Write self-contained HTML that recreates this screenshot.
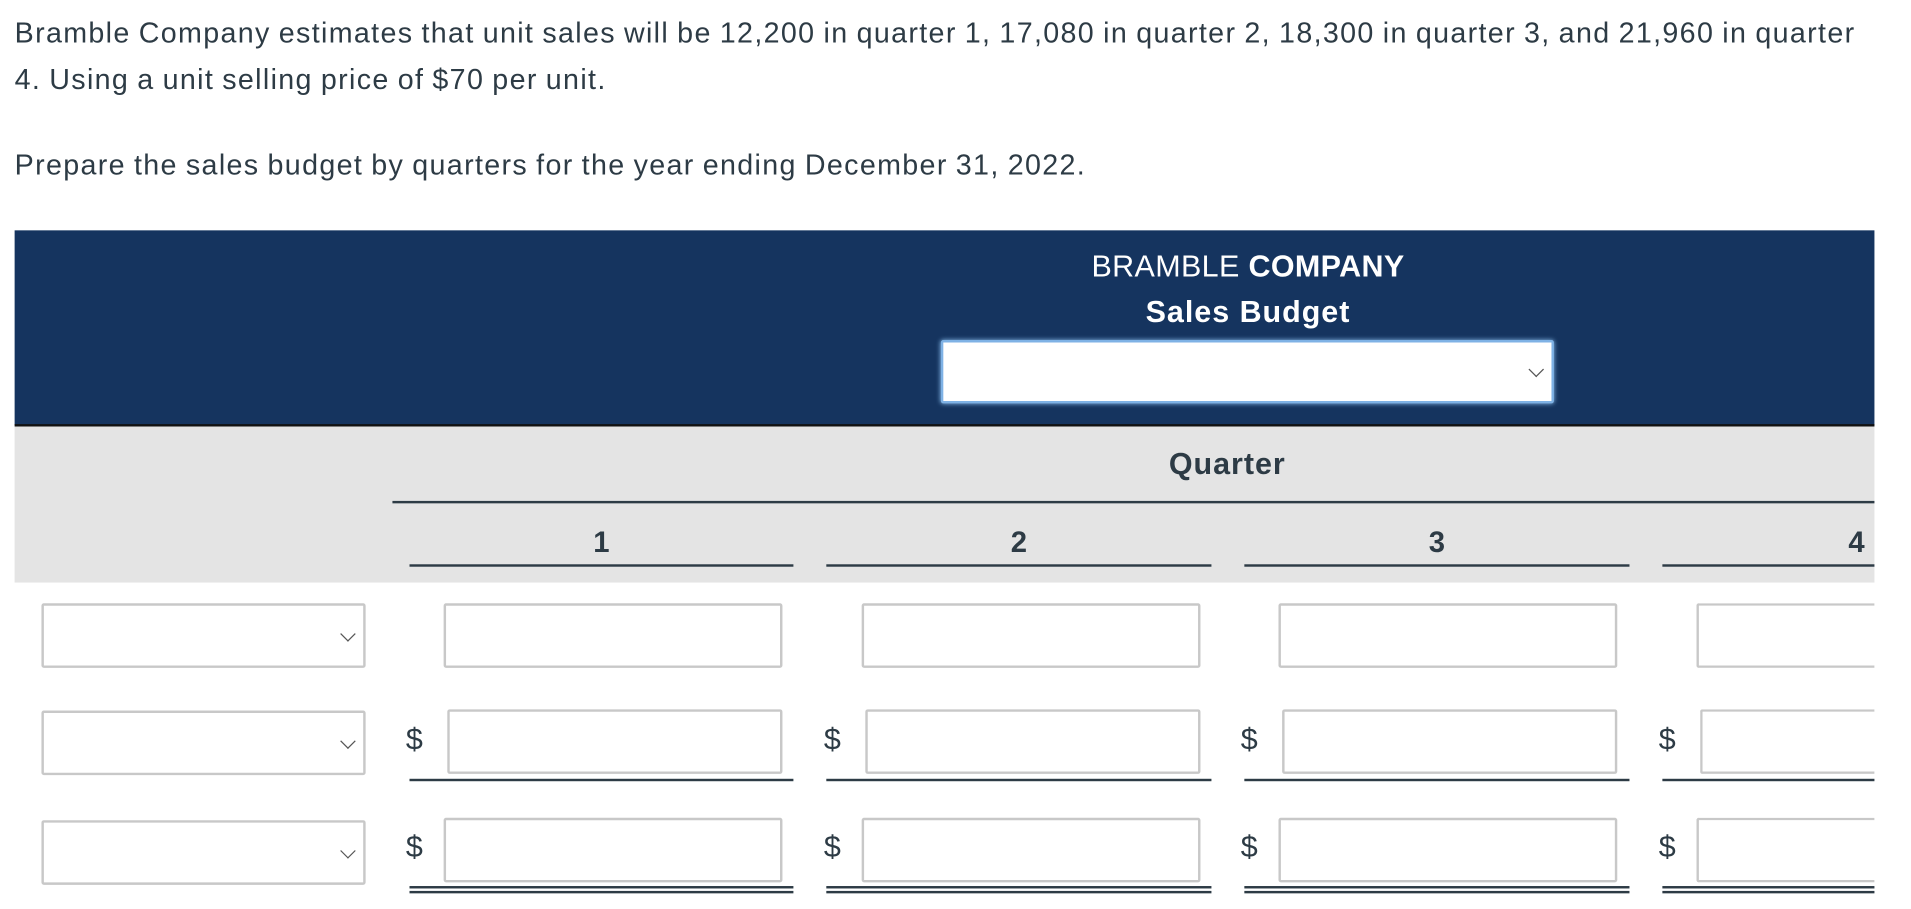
<!DOCTYPE html>
<html><head><meta charset="utf-8"><style>
html,body{margin:0;padding:0;background:#fff;overflow:hidden;width:1911px;height:909px}
#root{position:absolute;left:0;top:0;width:1568px;height:746px;transform:scale(1.21875);transform-origin:0 0;font-family:"Liberation Sans",sans-serif;color:#2d3b45}
.a{position:absolute}
.p{font-size:23.5px;color:#2d3b45;white-space:nowrap;letter-spacing:1.1px;word-spacing:-1px}
.box{position:absolute;border:2px solid #c8c8c8;border-radius:2px;background:#fff;box-sizing:border-box}
.r4{border-right:none;border-radius:2px 0 0 2px}
.chev{position:absolute;right:8px;top:50%;width:8px;height:8px;border-right:1.5px solid #555;border-bottom:1.5px solid #555;transform:translateY(-70%) rotate(45deg)}
.ln{position:absolute;height:2px;background:#2d3b45}
.d{position:absolute;font-size:25px;color:#2d3b45}
.h{position:absolute;font-weight:bold;font-size:24px;color:#2d3b45;text-align:center}
</style></head><body>
<div id="root">
<div class="a p" style="left:12px;top:14px">Bramble Company estimates that unit sales will be 12,200 in quarter 1, 17,080 in quarter 2, 18,300 in quarter 3, and 21,960 in quarter</div>
<div class="a p" style="left:12px;top:52px">4. Using a unit selling price of $70 per unit.</div>
<div class="a p" style="left:12px;top:122px">Prepare the sales budget by quarters for the year ending December 31, 2022.</div>

<div class="a" style="left:12px;top:189px;width:1526px;height:160px;background:#15345f"></div>
<div class="a" style="left:12px;top:348px;width:1526px;height:2px;background:#111"></div>
<div class="a" style="left:724px;top:205px;width:600px;text-align:center;color:#fff;font-size:25px;letter-spacing:0.3px">BRAMBLE <b>COMPANY</b></div>
<div class="a" style="left:724px;top:242px;width:600px;text-align:center;color:#fff;font-size:25px;font-weight:bold;letter-spacing:0.8px">Sales Budget</div>
<div class="box" style="left:772px;top:279px;width:503px;height:52px;border-color:#7fb2e5;box-shadow:0 0 4px #8cc0f0"><div class="chev"></div></div>

<div class="a" style="left:12px;top:350px;width:1526px;height:128px;background:#e4e4e4"></div>
<div class="h" style="left:857px;top:367px;width:300px;font-size:25px;letter-spacing:0.8px">Quarter</div>
<div class="ln" style="left:322px;top:411px;width:1216px"></div>

<div class="h" style="left:336px;top:432px;width:315px">1</div>
<div class="h" style="left:678px;top:432px;width:316px">2</div>
<div class="h" style="left:1021px;top:432px;width:316px">3</div>
<div class="h" style="left:1364px;top:432px;width:166px;text-align:right">4</div>
<div class="ln" style="left:336px;top:463px;width:315px"></div>
<div class="ln" style="left:678px;top:463px;width:316px"></div>
<div class="ln" style="left:1021px;top:463px;width:316px"></div>
<div class="ln" style="left:1364px;top:463px;width:174px"></div>

<!-- row 1 -->
<div class="box" style="left:34px;top:495px;width:266px;height:53px"><div class="chev"></div></div>
<div class="box" style="left:364px;top:495px;width:278px;height:53px"></div>
<div class="box" style="left:707px;top:495px;width:278px;height:53px"></div>
<div class="box" style="left:1049px;top:495px;width:278px;height:53px"></div>
<div class="box r4" style="left:1392px;top:495px;width:146px;height:53px"></div>

<!-- row 2 -->
<div class="box" style="left:34px;top:583px;width:266px;height:53px"><div class="chev"></div></div>
<div class="d" style="left:333px;top:593px">$</div>
<div class="d" style="left:676px;top:593px">$</div>
<div class="d" style="left:1018px;top:593px">$</div>
<div class="d" style="left:1361px;top:593px">$</div>
<div class="box" style="left:367px;top:582px;width:275px;height:53px"></div>
<div class="box" style="left:710px;top:582px;width:275px;height:53px"></div>
<div class="box" style="left:1052px;top:582px;width:275px;height:53px"></div>
<div class="box r4" style="left:1395px;top:582px;width:143px;height:53px"></div>
<div class="ln" style="left:336px;top:639px;width:315px"></div>
<div class="ln" style="left:678px;top:639px;width:316px"></div>
<div class="ln" style="left:1021px;top:639px;width:316px"></div>
<div class="ln" style="left:1364px;top:639px;width:174px"></div>

<!-- row 3 -->
<div class="box" style="left:34px;top:673px;width:266px;height:53px"><div class="chev"></div></div>
<div class="d" style="left:333px;top:681px">$</div>
<div class="d" style="left:676px;top:681px">$</div>
<div class="d" style="left:1018px;top:681px">$</div>
<div class="d" style="left:1361px;top:681px">$</div>
<div class="box" style="left:364px;top:671px;width:278px;height:53px"></div>
<div class="box" style="left:707px;top:671px;width:278px;height:53px"></div>
<div class="box" style="left:1049px;top:671px;width:278px;height:53px"></div>
<div class="box r4" style="left:1392px;top:671px;width:146px;height:53px"></div>
<div class="ln" style="left:336px;top:727px;width:315px"></div><div class="ln" style="left:336px;top:731px;width:315px"></div>
<div class="ln" style="left:678px;top:727px;width:316px"></div><div class="ln" style="left:678px;top:731px;width:316px"></div>
<div class="ln" style="left:1021px;top:727px;width:316px"></div><div class="ln" style="left:1021px;top:731px;width:316px"></div>
<div class="ln" style="left:1364px;top:727px;width:174px"></div><div class="ln" style="left:1364px;top:731px;width:174px"></div>
</div>
</body></html>
